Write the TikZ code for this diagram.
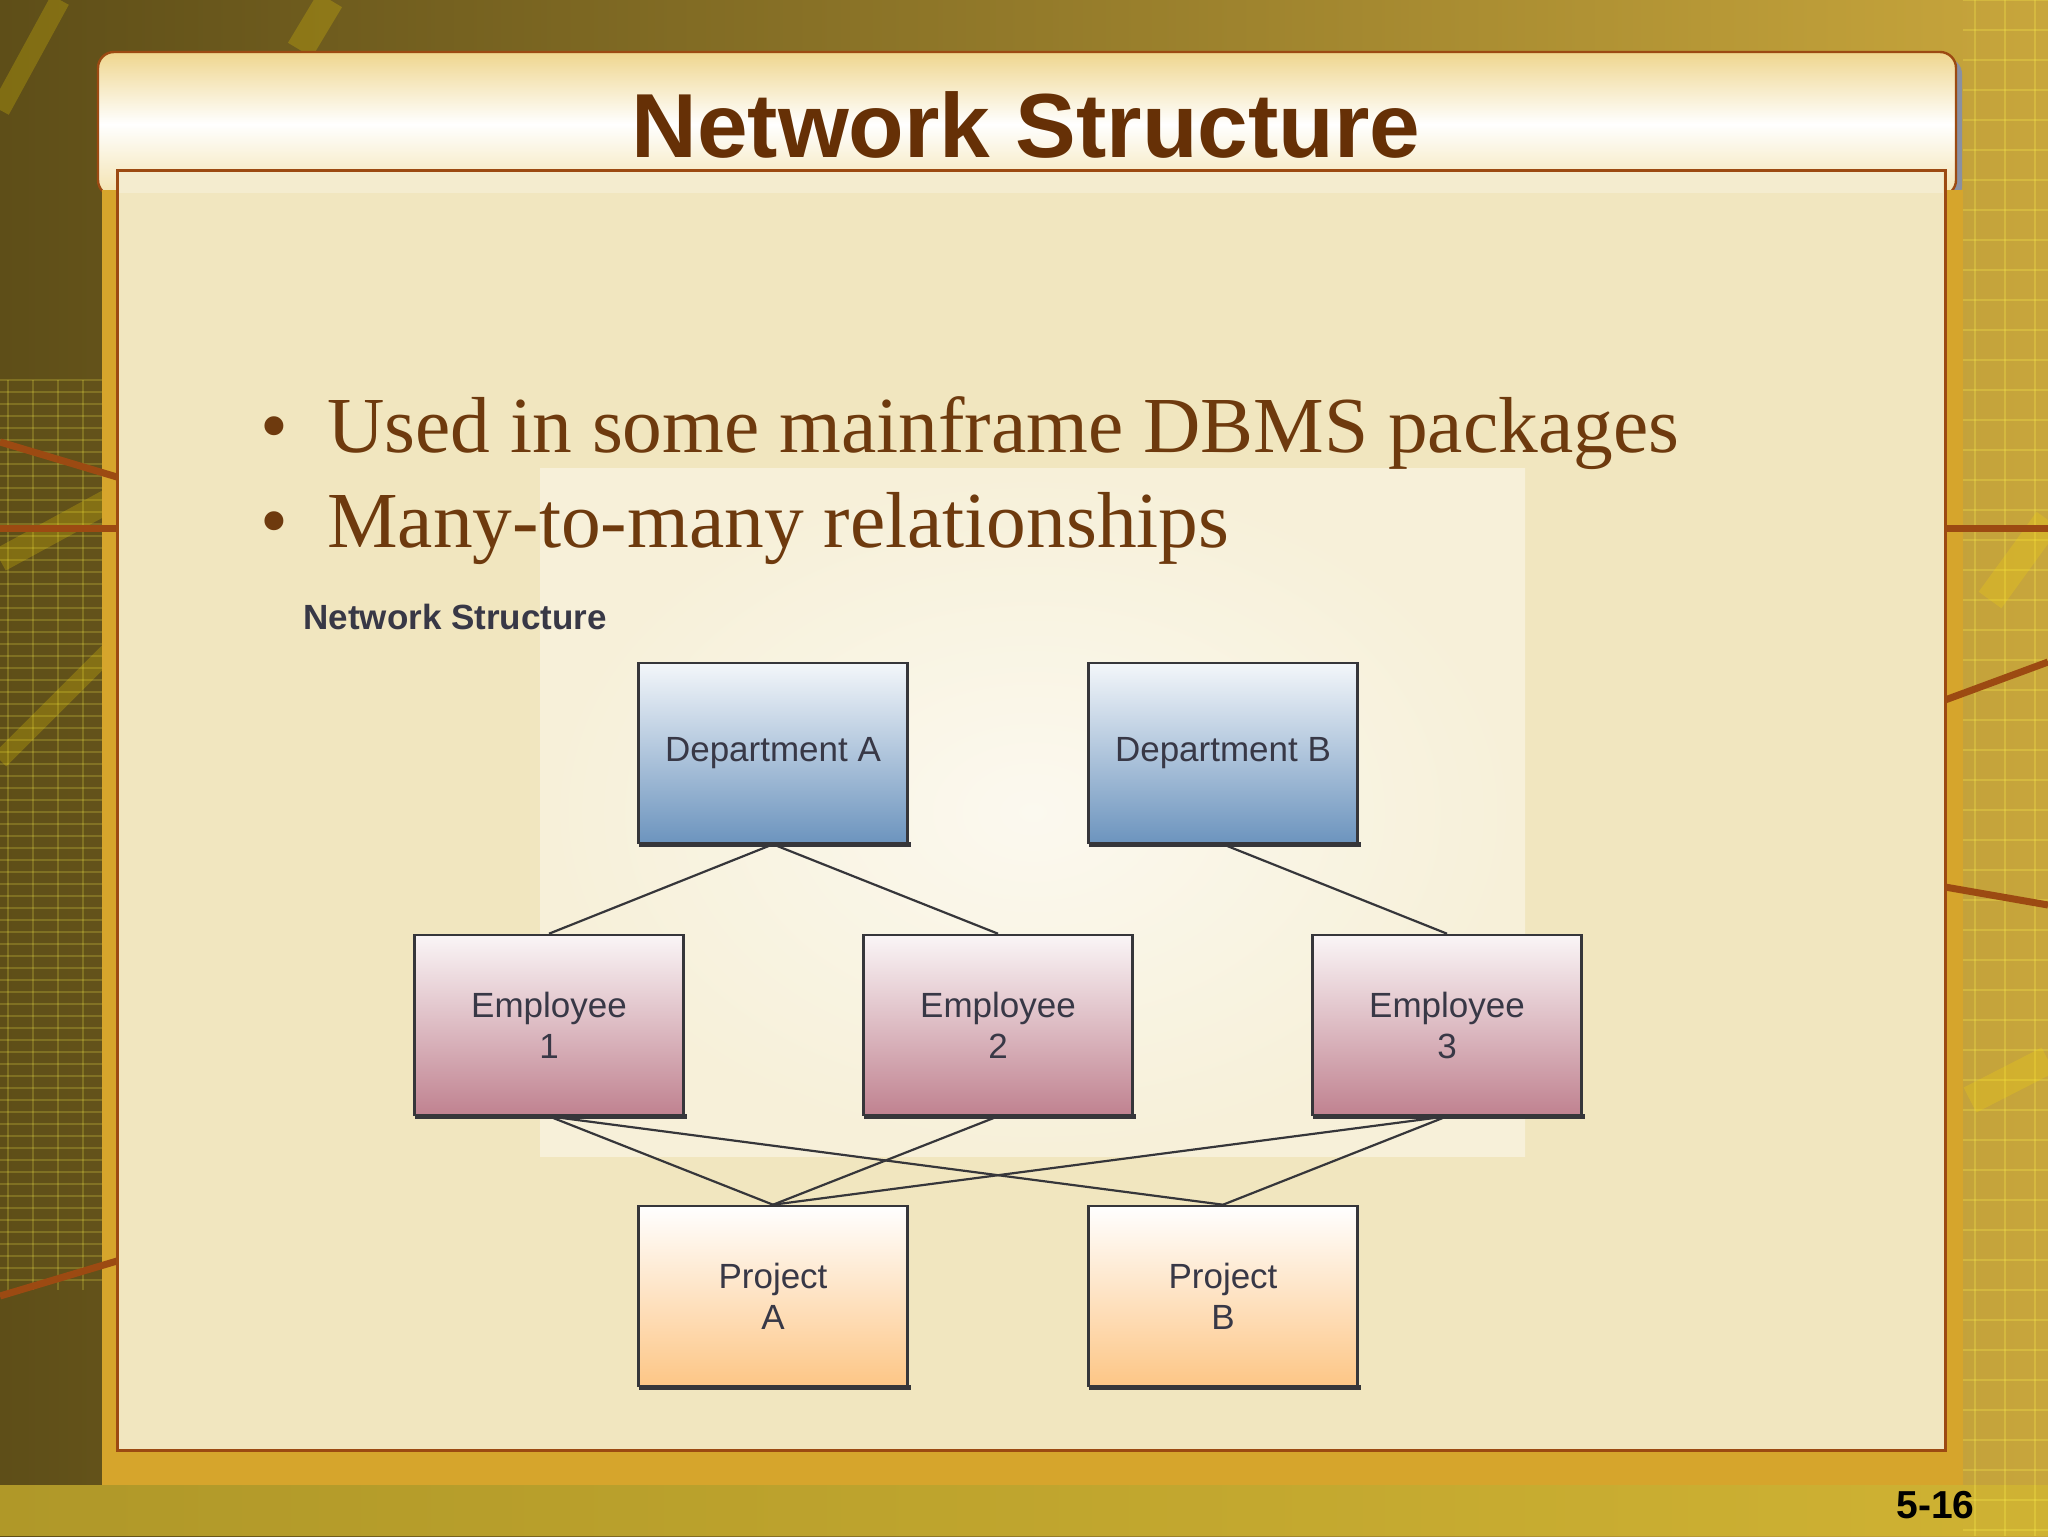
\documentclass[tikz,border=0pt]{standalone}
\usepackage{fontspec}
\setmainfont{Liberation Serif}
\setsansfont{Liberation Sans}

\definecolor{titlebrown}{HTML}{663006}
\definecolor{textbrown}{HTML}{6E3A0E}
\definecolor{rulebrown}{HTML}{9C4A12}
\definecolor{boxtext}{HTML}{383846}
\definecolor{boxline}{HTML}{36363A}
\definecolor{deptblue}{HTML}{6C94BE}
\definecolor{emppink}{HTML}{C08290}
\definecolor{projpeach}{HTML}{FDC686}
\definecolor{panelcream}{HTML}{F1E6BF}
\definecolor{goldband}{HTML}{D6A52C}
\definecolor{bgdark}{HTML}{5E4E18}
\definecolor{bglight}{HTML}{C8A63C}
\definecolor{barshadow}{HTML}{8A90A2}
\definecolor{bartop}{HTML}{EFD68E}
\definecolor{barbottom}{HTML}{F3E2AE}

\begin{document}
\begin{tikzpicture}[x=0.5pt, y=-0.5pt]

\tikzstyle{every node} = [inner sep=0pt]
\tikzstyle{box} = [rectangle, draw=boxline, line width=1.3pt, minimum width=134.5pt, minimum height=90pt, align=center, text=boxtext, font=\sffamily\fontsize{17.5}{20.5}\selectfont]
\tikzstyle{dept} = [box, top color=white!92!deptblue, bottom color=deptblue]
\tikzstyle{emp} = [box, top color=white!92!emppink, bottom color=emppink]
\tikzstyle{proj} = [box, top color=white, bottom color=projpeach]
\tikzstyle{link} = [draw=boxline, line width=1.1pt]
\tikzstyle{bullettxt} = [text=textbrown, font=\fontsize{39.7}{44}\selectfont]
\tikzstyle{accent} = [draw=rulebrown, line width=3.5pt]
\tikzstyle{streak} = [yellow!80!orange, opacity=.22]

\useasboundingbox (0,0) rectangle (2048,1536);

% background
\shade[left color=bgdark, right color=bglight] (0,0) rectangle (2048,1536);
\fill[bglight!80!yellow, opacity=.7] (0,1485) rectangle (2048,1536);
\foreach \y in {380,392,...,1290} \draw[yellow!70!white, opacity=.2, line width=1pt] (0,\y) -- (102,\y);
\foreach \x in {8,33,...,102} \draw[yellow!70!white, opacity=.2, line width=1pt] (\x,380) -- (\x,1290);
\foreach \y in {0,30,...,1536} \draw[yellow!70!white, opacity=.25, line width=1pt] (1963,\y) -- (2048,\y);
\foreach \x in {1975,2005,2035} \draw[yellow!70!white, opacity=.25, line width=1pt] (\x,0) -- (\x,1536);
\draw[streak, line width=9pt] (0,760) -- (110,650);
\draw[streak, line width=12pt] (0,560) -- (110,500);
\draw[streak, line width=10pt] (60,0) -- (0,110);
\draw[streak, line width=14pt] (330,0) -- (300,50);
\draw[streak, line width=14pt] (1990,600) -- (2048,520);
\draw[streak, line width=14pt] (1970,1100) -- (2048,1060);

% title bar and panel
\fill[barshadow, rounded corners=8pt] (104,58) rectangle (1962,202);
\draw[rulebrown, line width=1.2pt, rounded corners=8pt, top color=bartop, bottom color=barbottom, middle color=white] (98,52) rectangle (1956,196);
\fill[goldband] (102,190) rectangle (1963,1485);
\draw[accent] (0,442) -- (117,477);
\draw[accent] (0,528) -- (117,528);
\draw[accent] (0,1296) -- (117,1261);
\draw[accent] (1945,528) -- (2048,528);
\draw[accent] (1945,700) -- (2048,662);
\draw[accent] (1945,887) -- (2048,905);
\draw[rulebrown, line width=1.5pt, fill=panelcream] (117,170) rectangle (1945,1450);
\fill[white, opacity=.25] (119,172) rectangle (1943,193);
\shade[inner color=white!75!panelcream, outer color=white!40!panelcream] (540,468) rectangle (1525,1156);

% texts
\node[anchor=base, text=titlebrown, font=\sffamily\bfseries\fontsize{45.5}{50}\selectfont] (title) at (1026,157) {Network Structure};
\node[anchor=base, bullettxt] (dot1) at (274,452) {•};
\node[anchor=base west, bullettxt] (item1) at (327,452) {Used in some mainframe DBMS packages};
\node[anchor=base, bullettxt] (dot2) at (274,547) {•};
\node[anchor=base west, bullettxt] (item2) at (327,547) {Many-to-many relationships};
\node[anchor=base west, text=boxtext, font=\sffamily\bfseries\fontsize{17.5}{20}\selectfont] (caption) at (303,629) {Network Structure};

% boxes
\node[dept] (da) at (773,753) {Department A};
\node[dept] (db) at (1223,753) {Department B};

\node[emp] (e1) at (549,1025) {Employee\\1};
\node[emp] (e2) at (998,1025) {Employee\\2};
\node[emp] (e3) at (1447,1025) {Employee\\3};

\node[proj] (pa) at (773,1296) {Project\\A};
\node[proj] (pb) at (1223,1296) {Project\\B};

\foreach \n in {da,db,e1,e2,e3,pa,pb}
  \draw[boxline, line width=2.6pt] ([xshift=1pt]\n.south west) -- ([xshift=1pt]\n.south east);

\draw[link] (da.south) -- (e1.north);
\draw[link] (da.south) -- (e2.north);
\draw[link] (db.south) -- (e3.north);

\draw[link] (e1.south) -- (pa.north);
\draw[link] (e1.south) -- (pb.north);
\draw[link] (e2.south) -- (pa.north);
\draw[link] (e3.south) -- (pa.north);
\draw[link] (e3.south) -- (pb.north);

\node[anchor=base east, font=\sffamily\bfseries\fontsize{19.5}{22}\selectfont] (num) at (1975,1518) {5-16};
\end{tikzpicture}
\end{document}
